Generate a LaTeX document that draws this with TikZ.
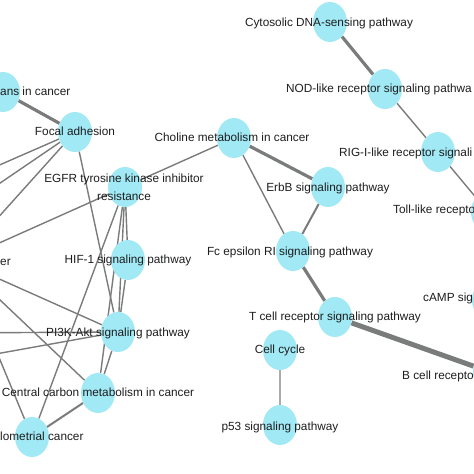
\documentclass[tikz,border=0pt]{standalone}
\usepackage{fontspec}
\setmainfont{Liberation Sans}
\usetikzlibrary{shapes.geometric,backgrounds}
\definecolor{nodecyan}{RGB}{160,233,245}
\definecolor{edgegray}{RGB}{122,124,124}
\definecolor{lightedge}{RGB}{170,172,172}
\definecolor{labelgray}{RGB}{30,30,30}

\begin{document}
\begin{tikzpicture}[x=1pt,y=-1pt,
    pathway/.style={ellipse,fill=nodecyan,minimum width=34pt,minimum height=40pt,inner sep=0pt},
    pathlabel/.style={inner sep=0pt,text=labelgray,font=\fontsize{11.8}{18}\selectfont,
        text height=8.5pt,text depth=2.5pt,align=center},
    link/.style={draw=edgegray,line width=1.4pt},
    linkmid/.style={draw=edgegray,line width=2pt},
    linkthick/.style={draw=edgegray,line width=3.2pt},
    linkheavy/.style={draw=edgegray,line width=5pt}]
    \useasboundingbox (0,0) rectangle (474,474);
    \clip (0,0) rectangle (474,474);

    % pathways left of the crop
    \coordinate (hub) at (-41,261);
    \coordinate (offa) at (-60,191);
    \coordinate (offb) at (-60,224);
    \coordinate (offc) at (-60,333);
    \coordinate (offd) at (-60,364);

    \node[pathway] (proteo) at (3,92) {};
    \node[pathway] (focal) at (75,132) {};
    \node[pathway] (choline) at (234,138) {};
    \node[pathway] (egfr) at (125,187) {};
    \node[pathway] (cyto) at (330,22) {};
    \node[pathway] (nod) at (385,89) {};
    \node[pathway] (rig) at (438,152) {};
    \node[pathway] (erbb) at (328,187) {};
    \node[pathway] (toll) at (488,212) {};
    \node[pathway] (hif) at (128,260) {};
    \node[pathway] (fceps) at (293,251) {};
    \node[pathway] (camp) at (489,300) {};
    \node[pathway] (tcell) at (335,317) {};
    \node[pathway] (pikt) at (118,332) {};
    \node[pathway] (cellcyc) at (280,350) {};
    \node[pathway] (bcell) at (490,372) {};
    \node[pathway] (carbon) at (98,393) {};
    \node[pathway] (ptf) at (280,425) {};
    \node[pathway] (endo) at (32,437) {};

    \begin{scope}[on background layer]
        \fill[white] (0,0) rectangle (474,474);
        \draw[linkthick] (proteo) -- (focal);
        \draw[link] (focal) -- (offa);
        \draw[link] (focal) -- (offb);
        \draw[link] (focal) -- (hub);
        \draw[link] (focal) -- (pikt);
        \draw[link] (choline) -- (hub);
        \draw[link] (hub) -- (pikt);
        \draw[link] (hub) -- (carbon);
        \draw[link] (hub) -- (endo);
        \draw[link] (pikt) -- (offc);
        \draw[link] (pikt) -- (offd);
        \draw[link] (egfr) -- (hif);
        \draw[link] (egfr) -- (pikt);
        \draw[link] (egfr) -- (carbon);
        \draw[link] (hif) -- (pikt);
        \draw[link] (egfr) -- (endo);
        \draw[link] (pikt) -- (carbon);
        \draw[linkmid] (carbon) -- (endo);
        \draw[linkthick] (choline) -- (erbb);
        \draw[link] (choline) -- (fceps);
        \draw[linkmid] (erbb) -- (fceps);
        \draw[linkthick] (fceps) -- (tcell);
        \draw[linkheavy] (tcell) -- (bcell);
        \draw[draw=lightedge,line width=2pt] (cellcyc) -- (ptf);
        \draw[linkthick] (cyto) -- (nod);
        \draw[link] (nod) -- (rig);
        \draw[link] (rig) -- (toll);
    \end{scope}

    % labels, cut where the crop cuts them
    \node[pathlabel,anchor=west] (proteo-l) at (0,92) {ans in cancer};
    \node[pathlabel,anchor=west] (hub-l) at (0,262) {er};
    \node[pathlabel,anchor=west] (endo-l) at (0,437) {lometrial cancer};
    \node[pathlabel] (focal-l) at (focal) {Focal adhesion};
    \node[pathlabel] (choline-l) at (232,138) {Choline metabolism in cancer};
    \node[pathlabel] (egfr-l) at (124,197) {EGFR tyrosine kinase inhibitor\\resistance};
    \node[pathlabel] (cyto-l) at (329,23) {Cytosolic DNA-sensing pathway};
    \node[pathlabel,anchor=west] (nod-l) at (286,89) {NOD-like receptor signaling pathwa};
    \node[pathlabel,anchor=west] (rig-l) at (339,153) {RIG-I-like receptor signali};
    \node[pathlabel] (erbb-l) at (328,188) {ErbB signaling pathway};
    \node[pathlabel,anchor=west] (toll-l) at (393,210) {Toll-like recepto};
    \node[pathlabel] (hif-l) at (128,260) {HIF-1 signaling pathway};
    \node[pathlabel] (fceps-l) at (290,252) {Fc epsilon RI signaling pathway};
    \node[pathlabel,anchor=west] (camp-l) at (423,298) {cAMP sig};
    \node[pathlabel] (tcell-l) at (tcell) {T cell receptor signaling pathway};
    \node[pathlabel] (pikt-l) at (118,333) {PI3K-Akt signaling pathway};
    \node[pathlabel] (cellcyc-l) at (cellcyc) {Cell cycle};
    \node[pathlabel,anchor=west] (bcell-l) at (402,376) {B cell recepto};
    \node[pathlabel] (carbon-l) at (carbon) {Central carbon metabolism in cancer};
    \node[pathlabel] (ptf-l) at (280,427) {p53 signaling pathway};
\end{tikzpicture}
\end{document}
